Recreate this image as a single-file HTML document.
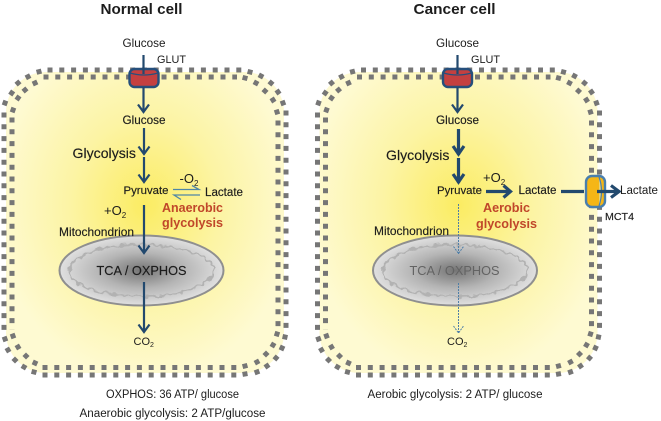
<!DOCTYPE html>
<html><head><meta charset="utf-8"><style>
html,body{margin:0;padding:0;background:#fff;width:661px;height:421px;overflow:hidden}
svg{display:block}
text{font-family:"Liberation Sans",sans-serif;fill:#1c1c1c}
.s{stroke:#1c1c1c;stroke-width:.15px}
.red{fill:#c0462a;font-weight:bold;font-size:13px}
.a{fill:none;stroke:#24486e;stroke-width:2.2}
.t{fill:none;stroke:#24486e;stroke-width:3.2}
.d{fill:none;stroke:#4f7fa8;stroke-width:1}
.l{fill:none;stroke:#767676;stroke-width:5;stroke-dasharray:5 6.8}
.q{fill:#767676}
</style></head><body>
<svg width="661" height="421" viewBox="0 0 661 421" xmlns="http://www.w3.org/2000/svg">
<defs>
<radialGradient id="y" gradientUnits="userSpaceOnUse" cx="0" cy="0" r="1" gradientTransform="translate(145 205) scale(150 175)">
<stop offset="0" stop-color="#fbec62"/><stop offset=".5" stop-color="#fcf4a4"/><stop offset="1" stop-color="#fefad2"/></radialGradient>
<radialGradient id="g"><stop offset="0" stop-color="#747474"/><stop offset=".5" stop-color="#b4b4b4"/><stop offset="1" stop-color="#e0e0e0"/></radialGradient>
<filter id="w" x="-10%" y="-20%" width="120%" height="140%"><feTurbulence type="fractalNoise" baseFrequency=".2" numOctaves="1" seed="4"/><feDisplacementMap in="SourceGraphic" scale="8" xChannelSelector="R" yChannelSelector="G"/></filter>
<filter id="b"><feGaussianBlur stdDeviation=".35"/></filter>
<g id="cell">
<rect x="6" y="72" width="278" height="301" rx="40" fill="url(#y)"/>
<path class="l" d="M47.500 70H241.500M43.500 77H237M42.500 367.500H242M42.500 375H242M4 112.500V330M12 117.500V330M286 110.500V330M278 120.500V330"/>
<g class="q">
<rect x="36.500" y="69.200" width="5" height="5" transform="rotate(-15 39 71.700)"/>
<rect x="25.500" y="74.200" width="5" height="5" transform="rotate(-28 28 76.700)"/>
<rect x="15.500" y="80.500" width="5" height="5" transform="rotate(-40 18 83)"/>
<rect x="9.200" y="90.500" width="5" height="5" transform="rotate(-55 11.700 93)"/>
<rect x="2.500" y="100.500" width="5" height="5" transform="rotate(-70 5 103)"/>
<rect x="32.500" y="80.500" width="5" height="5" transform="rotate(-25 35 83)"/>
<rect x="22.500" y="87.500" width="5" height="5" transform="rotate(-40 25 90)"/>
<rect x="15.500" y="95.500" width="5" height="5" transform="rotate(-55 18 98)"/>
<rect x="10.500" y="107.500" width="5" height="5" transform="rotate(-70 13 110)"/>
<rect x="2.500" y="336.500" width="5" height="5" transform="rotate(70 5 339)"/>
<rect x="5.500" y="347.500" width="5" height="5" transform="rotate(60 8 350)"/>
<rect x="12.500" y="357.500" width="5" height="5" transform="rotate(45 15 360)"/>
<rect x="21.500" y="364.500" width="5" height="5" transform="rotate(30 24 367)"/>
<rect x="31.500" y="369.500" width="5" height="5" transform="rotate(15 34 372)"/>
<rect x="10.500" y="333.500" width="5" height="5" transform="rotate(70 13 336)"/>
<rect x="15.500" y="344.500" width="5" height="5" transform="rotate(60 18 347)"/>
<rect x="23.500" y="353.500" width="5" height="5" transform="rotate(45 26 356)"/>
<rect x="32.500" y="360.500" width="5" height="5" transform="rotate(25 35 363)"/>
<rect x="242.500" y="363.500" width="5" height="5" transform="rotate(-15 245 366)"/>
<rect x="254.500" y="359.500" width="5" height="5" transform="rotate(-28 257 362)"/>
<rect x="263.500" y="351.500" width="5" height="5" transform="rotate(-45 266 354)"/>
<rect x="270.500" y="342.500" width="5" height="5" transform="rotate(-60 273 345)"/>
<rect x="274.500" y="331.500" width="5" height="5" transform="rotate(-72 277 334)"/>
<rect x="242.500" y="371.500" width="5" height="5" transform="rotate(-10 245 374)"/>
<rect x="254.500" y="369.500" width="5" height="5" transform="rotate(-20 257 372)"/>
<rect x="264.500" y="363.500" width="5" height="5" transform="rotate(-35 267 366)"/>
<rect x="273.500" y="355.500" width="5" height="5" transform="rotate(-50 276 358)"/>
<rect x="279.500" y="345.500" width="5" height="5" transform="rotate(-65 282 348)"/>
<rect x="282.500" y="334.500" width="5" height="5" transform="rotate(-78 285 337)"/>
<rect x="247.500" y="69.500" width="5" height="5" transform="rotate(15 250 72)"/>
<rect x="258.500" y="73.500" width="5" height="5" transform="rotate(28 261 76)"/>
<rect x="268.500" y="80.500" width="5" height="5" transform="rotate(40 271 83)"/>
<rect x="275.500" y="89.500" width="5" height="5" transform="rotate(55 278 92)"/>
<rect x="280.500" y="100.500" width="5" height="5" transform="rotate(70 283 103)"/>
<rect x="242.500" y="75.500" width="5" height="5" transform="rotate(15 245 78)"/>
<rect x="253.500" y="80.500" width="5" height="5" transform="rotate(28 256 83)"/>
<rect x="262.500" y="88.500" width="5" height="5" transform="rotate(42 265 91)"/>
<rect x="270.500" y="97.500" width="5" height="5" transform="rotate(58 273 100)"/>
<rect x="274.500" y="109.500" width="5" height="5" transform="rotate(72 277 112)"/>
</g>
<ellipse cx="141.500" cy="270.500" rx="82" ry="35" fill="url(#g)" stroke="#8f8f8f" stroke-width="2"/>
<ellipse cx="141.500" cy="270.500" rx="72" ry="26" fill="none" stroke="#b2b2b2" stroke-width="1.800" filter="url(#w)"/>
<rect x="129.500" y="69" width="29" height="18" rx="5" fill="#c4403f" stroke="#27507c" stroke-width="2.400"/>
<path d="M130 73q14 4 28 0" fill="none" stroke="#27507c" stroke-width="1.200"/>
</g>
</defs>
<g filter="url(#b)">
<use href="#cell"/>
<use href="#cell" transform="translate(313.500 0)"/>

<!-- left arrows -->
<path class="a" d="M143.500 55V74M143.500 87V112M138 104.500l5.500 7.500 5.500-7.500"/>
<path class="a" d="M144 128V154M138.500 146.500l5.500 7.500 5.500-7.500"/>
<path class="a" d="M144 157V182M138.500 174.500l5.500 7.500 5.500-7.500"/>
<path class="a" d="M144 205V253M138.500 245.500l5.500 7.500 5.500-7.500"/>
<path class="a" d="M144 282V332M138.500 324.500l5.500 7.500 5.500-7.500"/>
<path d="M173 189.500H199l-7-4M200 195H174l7 4.500" fill="none" stroke="#4f86a6" stroke-width="1.300"/>
<!-- right arrows -->
<path class="a" d="M457.500 55V74M457.500 87V112M452 104.500l5.500 7.500 5.500-7.500"/>
<path class="t" d="M458.500 129V155M453 146l5.500 8 5.500-8"/>
<path class="t" d="M458.500 158V183M453 174l5.500 8 5.500-8"/>
<path class="d" stroke-dasharray="2 1" d="M458.500 204V254M453.500 246.500l5 7 5-7"/>
<path class="d" stroke-dasharray="2 1" d="M458.500 283V333M453.500 326l5 7 5-7"/>
<path class="t" d="M486 191.500H510M503.500 185.500l7 6-7 6"/>
<path class="t" d="M561 191.500H584"/>
<!-- MCT4 -->
<rect x="586" y="176" width="19" height="31" rx="6" fill="#f5b617" stroke="#4a7fae" stroke-width="2.400"/>
<path d="M599 177q5 14 0 29" fill="#e3d27a" stroke="#4a7fae" stroke-width="1.200"/>
<path class="t" d="M597 191.500H619M611 185.500l8 6-8 6"/>

<!-- titles -->
<text x="100.500" y="14" font-size="15" font-weight="bold" textLength="82" lengthAdjust="spacingAndGlyphs">Normal cell</text>
<text x="413.500" y="14" font-size="15" font-weight="bold" textLength="82" lengthAdjust="spacingAndGlyphs">Cancer cell</text>

<!-- left labels -->
<text x="122.500" y="47" font-size="11.700" textLength="43" lengthAdjust="spacingAndGlyphs">Glucose</text>
<text x="157" y="63" font-size="11" textLength="29" lengthAdjust="spacingAndGlyphs">GLUT</text>
<text class="s" x="122.500" y="124" font-size="11.700" textLength="43" lengthAdjust="spacingAndGlyphs">Glucose</text>
<text class="s" x="72.500" y="158" font-size="14" textLength="63.500" lengthAdjust="spacingAndGlyphs">Glycolysis</text>
<text class="s" x="123.500" y="194" font-size="11.400" textLength="45" lengthAdjust="spacingAndGlyphs">Pyruvate</text>
<text x="179.500" y="183" font-size="13">-O<tspan font-size="8" dy="3">2</tspan></text>
<text class="s" x="205" y="196" font-size="11.500" textLength="38" lengthAdjust="spacingAndGlyphs">Lactate</text>
<text x="104" y="215" font-size="13">+O<tspan font-size="8" dy="3">2</tspan></text>
<text class="red" x="162" y="212" textLength="61" lengthAdjust="spacingAndGlyphs">Anaerobic</text>
<text class="red" x="162" y="227" textLength="61" lengthAdjust="spacingAndGlyphs">glycolysis</text>
<text class="s" x="59" y="236" font-size="12" textLength="75" lengthAdjust="spacingAndGlyphs">Mitochondrion</text>
<text class="s" x="96.500" y="275" font-size="12.800" textLength="90" lengthAdjust="spacingAndGlyphs">TCA / OXPHOS</text>
<text x="133.500" y="345" font-size="11">CO<tspan font-size="7" dy="2">2</tspan></text>
<text x="106" y="398" font-size="11.500" textLength="133" lengthAdjust="spacingAndGlyphs">OXPHOS: 36 ATP/ glucose</text>
<text x="79.500" y="417" font-size="11.500" textLength="186" lengthAdjust="spacingAndGlyphs">Anaerobic glycolysis: 2 ATP/glucose</text>

<!-- right labels -->
<text x="436" y="47" font-size="11.700" textLength="43" lengthAdjust="spacingAndGlyphs">Glucose</text>
<text x="471" y="63" font-size="11" textLength="29" lengthAdjust="spacingAndGlyphs">GLUT</text>
<text class="s" x="436" y="124" font-size="11.700" textLength="43" lengthAdjust="spacingAndGlyphs">Glucose</text>
<text class="s" x="386" y="160" font-size="14" textLength="63.500" lengthAdjust="spacingAndGlyphs">Glycolysis</text>
<text class="s" x="437" y="194" font-size="11.400" textLength="45" lengthAdjust="spacingAndGlyphs">Pyruvate</text>
<text x="483" y="182" font-size="13">+O<tspan font-size="8" dy="3">2</tspan></text>
<text class="s" x="518.500" y="194" font-size="11.500" textLength="38" lengthAdjust="spacingAndGlyphs">Lactate</text>
<text x="620" y="194" font-size="11.500" textLength="38" lengthAdjust="spacingAndGlyphs">Lactate</text>
<text class="red" x="483" y="212" textLength="47" lengthAdjust="spacingAndGlyphs">Aerobic</text>
<text class="red" x="476" y="228" textLength="61" lengthAdjust="spacingAndGlyphs">glycolysis</text>
<text class="s" x="605" y="220" font-size="10.500" textLength="29" lengthAdjust="spacingAndGlyphs">MCT4</text>
<text class="s" x="374" y="235" font-size="12" textLength="75" lengthAdjust="spacingAndGlyphs">Mitochondrion</text>
<text x="409.500" y="275" font-size="12.800" textLength="90" lengthAdjust="spacingAndGlyphs" style="fill:#636363">TCA / OXPHOS</text>
<text x="447" y="345" font-size="11">CO<tspan font-size="7" dy="2">2</tspan></text>
<text x="367.500" y="398" font-size="11.500" textLength="175" lengthAdjust="spacingAndGlyphs">Aerobic glycolysis: 2 ATP/ glucose</text>
</g>
</svg>
</body></html>
